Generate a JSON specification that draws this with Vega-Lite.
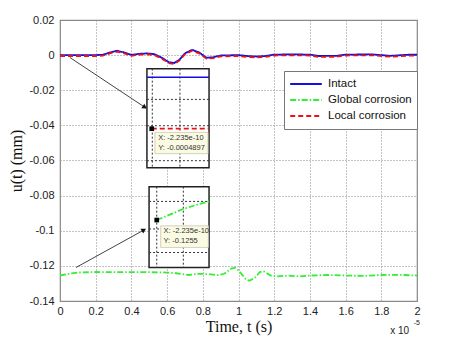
{
  "$schema": "https://vega.github.io/schema/vega-lite/v6.json",
  "width": 357,
  "height": 281,
  "autosize": {"type": "none"},
  "padding": {"left": 60, "top": 20, "right": 57, "bottom": 47},
  "background": "white",
  "config": {
    "view": {"stroke": "#8a8a8a", "strokeWidth": 1.2},
    "axis": {"labelFont": "Liberation Sans", "labelFontSize": 11, "labelColor": "#222", "labelOverlap": false, "domain": false, "ticks": false, "gridColor": "#888", "gridDash": [1, 2], "gridOpacity": 1, "titleFont": "Liberation Serif", "titleFontWeight": "normal", "titleColor": "#111", "titleFontSize": 16}
  },
  "datasets": {
    "series": [
      {"t": 0, "u": 0, "s": "Intact"},
      {"t": 0.1, "u": 0, "s": "Intact"},
      {"t": 0.2, "u": 0, "s": "Intact"},
      {"t": 0.24, "u": 0.0002, "s": "Intact"},
      {"t": 0.28, "u": 0.0015, "s": "Intact"},
      {"t": 0.32, "u": 0.0025, "s": "Intact"},
      {"t": 0.36, "u": 0.0015, "s": "Intact"},
      {"t": 0.4, "u": 0.0001, "s": "Intact"},
      {"t": 0.44, "u": 0.0007, "s": "Intact"},
      {"t": 0.49, "u": 0.001, "s": "Intact"},
      {"t": 0.53, "u": 0.0005, "s": "Intact"},
      {"t": 0.57, "u": -0.0015, "s": "Intact"},
      {"t": 0.61, "u": -0.004, "s": "Intact"},
      {"t": 0.64, "u": -0.0045, "s": "Intact"},
      {"t": 0.67, "u": -0.0025, "s": "Intact"},
      {"t": 0.7, "u": 0.001, "s": "Intact"},
      {"t": 0.74, "u": 0.003, "s": "Intact"},
      {"t": 0.78, "u": 0.0015, "s": "Intact"},
      {"t": 0.82, "u": -0.0015, "s": "Intact"},
      {"t": 0.86, "u": -0.0012, "s": "Intact"},
      {"t": 0.9, "u": -0.0002, "s": "Intact"},
      {"t": 1.0, "u": 0, "s": "Intact"},
      {"t": 1.05, "u": -0.0005, "s": "Intact"},
      {"t": 1.1, "u": -0.0008, "s": "Intact"},
      {"t": 1.15, "u": -0.0005, "s": "Intact"},
      {"t": 1.2, "u": 0.0003, "s": "Intact"},
      {"t": 1.3, "u": 0.0004, "s": "Intact"},
      {"t": 1.4, "u": 0.0003, "s": "Intact"},
      {"t": 1.45, "u": -0.0005, "s": "Intact"},
      {"t": 1.55, "u": -0.0004, "s": "Intact"},
      {"t": 1.6, "u": 0.0003, "s": "Intact"},
      {"t": 1.75, "u": 0.0004, "s": "Intact"},
      {"t": 1.85, "u": -0.0004, "s": "Intact"},
      {"t": 1.95, "u": 0.0002, "s": "Intact"},
      {"t": 2.0, "u": 0.0002, "s": "Intact"},
      {"t": 0, "u": -0.1255, "s": "Global corrosion"},
      {"t": 0.05, "u": -0.1245, "s": "Global corrosion"},
      {"t": 0.1, "u": -0.1238, "s": "Global corrosion"},
      {"t": 0.2, "u": -0.1235, "s": "Global corrosion"},
      {"t": 0.3, "u": -0.1236, "s": "Global corrosion"},
      {"t": 0.4, "u": -0.1236, "s": "Global corrosion"},
      {"t": 0.5, "u": -0.1236, "s": "Global corrosion"},
      {"t": 0.6, "u": -0.1238, "s": "Global corrosion"},
      {"t": 0.65, "u": -0.1242, "s": "Global corrosion"},
      {"t": 0.72, "u": -0.1252, "s": "Global corrosion"},
      {"t": 0.78, "u": -0.1245, "s": "Global corrosion"},
      {"t": 0.83, "u": -0.1247, "s": "Global corrosion"},
      {"t": 0.88, "u": -0.1253, "s": "Global corrosion"},
      {"t": 0.92, "u": -0.1245, "s": "Global corrosion"},
      {"t": 0.96, "u": -0.1215, "s": "Global corrosion"},
      {"t": 0.98, "u": -0.121, "s": "Global corrosion"},
      {"t": 1.0, "u": -0.1225, "s": "Global corrosion"},
      {"t": 1.04, "u": -0.1275, "s": "Global corrosion"},
      {"t": 1.06, "u": -0.1285, "s": "Global corrosion"},
      {"t": 1.09, "u": -0.127, "s": "Global corrosion"},
      {"t": 1.12, "u": -0.1235, "s": "Global corrosion"},
      {"t": 1.14, "u": -0.123, "s": "Global corrosion"},
      {"t": 1.18, "u": -0.1255, "s": "Global corrosion"},
      {"t": 1.22, "u": -0.126, "s": "Global corrosion"},
      {"t": 1.28, "u": -0.1255, "s": "Global corrosion"},
      {"t": 1.34, "u": -0.126, "s": "Global corrosion"},
      {"t": 1.4, "u": -0.1255, "s": "Global corrosion"},
      {"t": 1.5, "u": -0.1252, "s": "Global corrosion"},
      {"t": 1.6, "u": -0.1255, "s": "Global corrosion"},
      {"t": 1.7, "u": -0.1257, "s": "Global corrosion"},
      {"t": 1.8, "u": -0.1252, "s": "Global corrosion"},
      {"t": 1.9, "u": -0.1251, "s": "Global corrosion"},
      {"t": 2.0, "u": -0.1255, "s": "Global corrosion"},
      {"t": 0, "u": -0.0005, "s": "Local corrosion"},
      {"t": 0.1, "u": -0.0005, "s": "Local corrosion"},
      {"t": 0.2, "u": -0.0005, "s": "Local corrosion"},
      {"t": 0.24, "u": -0.0003, "s": "Local corrosion"},
      {"t": 0.28, "u": 0.001, "s": "Local corrosion"},
      {"t": 0.32, "u": 0.002, "s": "Local corrosion"},
      {"t": 0.36, "u": 0.001, "s": "Local corrosion"},
      {"t": 0.4, "u": -0.0004, "s": "Local corrosion"},
      {"t": 0.44, "u": 0.0002, "s": "Local corrosion"},
      {"t": 0.49, "u": 0.0005, "s": "Local corrosion"},
      {"t": 0.53, "u": 0, "s": "Local corrosion"},
      {"t": 0.57, "u": -0.002, "s": "Local corrosion"},
      {"t": 0.61, "u": -0.0045, "s": "Local corrosion"},
      {"t": 0.64, "u": -0.005, "s": "Local corrosion"},
      {"t": 0.67, "u": -0.003, "s": "Local corrosion"},
      {"t": 0.7, "u": 0.0005, "s": "Local corrosion"},
      {"t": 0.74, "u": 0.0025, "s": "Local corrosion"},
      {"t": 0.78, "u": 0.001, "s": "Local corrosion"},
      {"t": 0.82, "u": -0.002, "s": "Local corrosion"},
      {"t": 0.86, "u": -0.0017, "s": "Local corrosion"},
      {"t": 0.9, "u": -0.0007, "s": "Local corrosion"},
      {"t": 1.0, "u": -0.0005, "s": "Local corrosion"},
      {"t": 1.05, "u": -0.001, "s": "Local corrosion"},
      {"t": 1.1, "u": -0.0013, "s": "Local corrosion"},
      {"t": 1.15, "u": -0.001, "s": "Local corrosion"},
      {"t": 1.2, "u": -0.0002, "s": "Local corrosion"},
      {"t": 1.3, "u": -0.0001, "s": "Local corrosion"},
      {"t": 1.4, "u": -0.0002, "s": "Local corrosion"},
      {"t": 1.45, "u": -0.001, "s": "Local corrosion"},
      {"t": 1.55, "u": -0.0009, "s": "Local corrosion"},
      {"t": 1.6, "u": -0.0002, "s": "Local corrosion"},
      {"t": 1.75, "u": -0.0001, "s": "Local corrosion"},
      {"t": 1.85, "u": -0.0009, "s": "Local corrosion"},
      {"t": 1.95, "u": -0.0003, "s": "Local corrosion"},
      {"t": 2.0, "u": -0.0003, "s": "Local corrosion"}
    ],
    "arrows": [
      {"t": 0.056, "u": -0.0014, "t2": 0.48, "u2": -0.0300},
      {"t": 0.09, "u": -0.1209, "t2": 0.475, "u2": -0.0993}
    ],
    "arrow1head": [{"t": 0.475, "u": -0.0297}],
    "arrow2head": [{"t": 0.47, "u": -0.0995}],
    "insets": [
      {"t": 0.487, "t2": 0.835, "u": -0.0077, "u2": -0.0641},
      {"t": 0.499, "t2": 0.835, "u": -0.0749, "u2": -0.1209}
    ],
    "insetGrid": [
      {"t": 0.517, "t2": 0.517, "u": -0.0077, "u2": -0.0641},
      {"t": 0.672, "t2": 0.672, "u": -0.0077, "u2": -0.0641},
      {"t": 0.487, "t2": 0.835, "u": -0.0252, "u2": -0.0252},
      {"t": 0.487, "t2": 0.835, "u": -0.0402, "u2": -0.0402},
      {"t": 0.487, "t2": 0.835, "u": -0.0601, "u2": -0.0601},
      {"t": 0.542, "t2": 0.542, "u": -0.0749, "u2": -0.1209},
      {"t": 0.691, "t2": 0.691, "u": -0.0749, "u2": -0.1209},
      {"t": 0.499, "t2": 0.835, "u": -0.0833, "u2": -0.0833},
      {"t": 0.499, "t2": 0.835, "u": -0.099, "u2": -0.099},
      {"t": 0.499, "t2": 0.835, "u": -0.1124, "u2": -0.1124}
    ],
    "insetBlue": [{"t": 0.487, "t2": 0.835, "u": -0.01265, "u2": -0.01265}],
    "insetRed": [{"t": 0.514, "t2": 0.835, "u": -0.0419, "u2": -0.0419}],
    "insetGreen": [
      {"t": 0.542, "u": -0.0939},
      {"t": 0.6, "u": -0.0915},
      {"t": 0.69, "u": -0.0876},
      {"t": 0.77, "u": -0.0851},
      {"t": 0.835, "u": -0.0833}
    ],
    "markers": [
      {"t": 0.514, "u": -0.0419},
      {"t": 0.542, "u": -0.0939}
    ],
    "tips": [
      {"t": 0.532, "t2": 0.829, "u": -0.044, "u2": -0.0561},
      {"t": 0.564, "t2": 0.831, "u": -0.0972, "u2": -0.1095}
    ],
    "tipText": [
      {"t": 0.55, "u": -0.0472, "label": "X: -2.235e-10"},
      {"t": 0.55, "u": -0.0530, "label": "Y: -0.0004897"},
      {"t": 0.58, "u": -0.1002, "label": "X: -2.235e-10"},
      {"t": 0.58, "u": -0.1060, "label": "Y: -0.1255"}
    ],
    "expo": [{"t": 1.85, "u": -0.1572, "label": "x 10"}],
    "expo2": [{"t": 1.982, "u": -0.1524, "label": "-5"}]
  },
  "encoding": {
    "x": {"field": "t", "type": "quantitative", "scale": {"domain": [0, 2], "nice": false}, "axis": {"values": [0, 0.2, 0.4, 0.6, 0.8, 1, 1.2, 1.4, 1.6, 1.8, 2], "labelOverlap": false, "labelFlush": false, "labelExpr": "toString(round(datum.value*10)/10)", "title": "Time, t (s)", "labelPadding": 4, "titlePadding": 2}},
    "y": {"field": "u", "type": "quantitative", "scale": {"domain": [-0.14, 0.02], "nice": false, "zero": false}, "axis": {"values": [0.02, 0, -0.02, -0.04, -0.06, -0.08, -0.1, -0.12, -0.14], "labelOverlap": false, "labelFlush": false, "labelExpr": "toString(round(datum.value*100)/100)", "title": "u(t) (mm)", "labelPadding": 6, "titlePadding": 4}}
  },
  "layer": [
    {
      "data": {"name": "series"},
      "mark": {"type": "line", "strokeWidth": 1.8, "clip": true},
      "encoding": {
        "color": {"field": "s", "type": "nominal", "scale": {"domain": ["Intact", "Global corrosion", "Local corrosion"], "range": ["#1010e0", "#33ee33", "#ee1111"]}, "legend": {"title": null, "orient": "none", "legendX": 224, "legendY": 51, "symbolType": "stroke", "symbolSize": 1000, "symbolStrokeWidth": 2, "clipHeight": 16, "labelFont": "Liberation Sans", "labelFontSize": 11.5, "labelColor": "#111", "padding": 5, "labelOffset": 5, "strokeColor": "#777", "fillColor": "white", "rowPadding": 0}},
        "strokeDash": {"field": "s", "type": "nominal", "scale": {"domain": ["Intact", "Global corrosion", "Local corrosion"], "range": [[1, 0], [6, 2, 1.5, 2], [5, 3]]}, "legend": {"title": null}},
        "order": {"field": "t"}
      }
    },
    {
      "data": {"name": "arrows"},
      "mark": {"type": "rule", "color": "#444", "strokeWidth": 1},
      "encoding": {"x2": {"field": "t2"}, "y2": {"field": "u2"}}
    },
    {
      "data": {"name": "arrow1head"},
      "mark": {"type": "point", "shape": "triangle-right", "filled": true, "color": "#111", "size": 30, "opacity": 1, "angle": 33.5},
      "encoding": {}
    },
    {
      "data": {"name": "arrow2head"},
      "mark": {"type": "point", "shape": "triangle-right", "filled": true, "color": "#111", "size": 30, "opacity": 1, "angle": -29},
      "encoding": {}
    },
    {
      "data": {"name": "insets"},
      "mark": {"type": "rect", "fill": "white", "stroke": "#222", "strokeWidth": 1.5},
      "encoding": {"x2": {"field": "t2"}, "y2": {"field": "u2"}}
    },
    {
      "data": {"name": "insetGrid"},
      "mark": {"type": "rule", "color": "#333", "strokeDash": [2, 2], "strokeWidth": 1},
      "encoding": {"x2": {"field": "t2"}, "y2": {"field": "u2"}}
    },
    {
      "data": {"name": "insetBlue"},
      "mark": {"type": "rule", "color": "#1010e0", "strokeWidth": 1.5},
      "encoding": {"x2": {"field": "t2"}, "y2": {"field": "u2"}}
    },
    {
      "data": {"name": "insetRed"},
      "mark": {"type": "rule", "color": "#ee1111", "strokeWidth": 1.8, "strokeDash": [5, 3]},
      "encoding": {"x2": {"field": "t2"}, "y2": {"field": "u2"}}
    },
    {
      "data": {"name": "insetGreen"},
      "mark": {"type": "line", "color": "#33ee33", "strokeWidth": 1.8, "strokeDash": [6, 2, 1.5, 2]},
      "encoding": {}
    },
    {
      "data": {"name": "markers"},
      "mark": {"type": "square", "color": "black", "size": 22, "opacity": 1},
      "encoding": {}
    },
    {
      "data": {"name": "tips"},
      "mark": {"type": "rect", "fill": "#fbfbe4", "stroke": "#c8c8b0", "strokeWidth": 0.8},
      "encoding": {"x2": {"field": "t2"}, "y2": {"field": "u2"}}
    },
    {
      "data": {"name": "tipText"},
      "mark": {"type": "text", "align": "left", "baseline": "middle", "font": "Liberation Sans", "fontSize": 7.5, "color": "#333"},
      "encoding": {"text": {"field": "label"}}
    },
    {
      "data": {"name": "expo"},
      "mark": {"type": "text", "align": "left", "baseline": "middle", "font": "Liberation Sans", "fontSize": 10, "color": "#222"},
      "encoding": {"text": {"field": "label"}}
    },
    {
      "data": {"name": "expo2"},
      "mark": {"type": "text", "align": "left", "baseline": "middle", "font": "Liberation Sans", "fontSize": 7, "color": "#222"},
      "encoding": {"text": {"field": "label"}}
    }
  ]
}
